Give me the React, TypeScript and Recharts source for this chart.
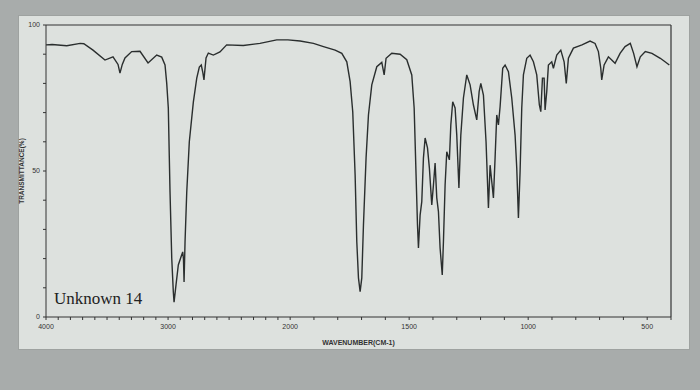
import { LineChart, Line, XAxis, YAxis, ReferenceLine } from "recharts";

// IR spectrum (wavenumber in cm-1, %T)
const wavenumbers = [
  4000, 3950, 3830, 3720, 3690, 3615, 3517, 3451, 3410, 3394, 3375, 3353, 3298, 3230, 3164, 3093,
  3052, 3025, 3011, 2998, 2990, 2984, 2970, 2957, 2951, 2935, 2916, 2897, 2880, 2874, 2869, 2861,
  2847, 2826, 2793, 2765, 2744, 2728, 2716, 2706, 2689, 2670, 2629, 2575, 2520, 2384, 2247, 2110,
  2018, 1958, 1902, 1860, 1811, 1783, 1762, 1748, 1737, 1727, 1720, 1713, 1706, 1699, 1692, 1681,
  1671, 1657, 1636, 1615, 1605, 1597, 1573, 1538, 1510, 1489, 1479, 1471, 1465, 1461, 1454, 1447,
  1440, 1433, 1423, 1415, 1405, 1398, 1391, 1384, 1377, 1370, 1361, 1356, 1349, 1342, 1331, 1325,
  1317, 1307, 1300, 1291, 1283, 1272, 1258, 1244, 1230, 1216, 1206, 1199, 1188, 1177, 1167, 1160,
  1153, 1146, 1139, 1132, 1125, 1118, 1107, 1097, 1083, 1069, 1055, 1048, 1041, 1034, 1027, 1020,
  1006, 992, 978, 964, 953, 947, 940, 933, 929, 922, 915, 901, 894, 880, 863, 849,
  840, 831, 821, 810, 774, 740, 719, 705, 695, 691, 681, 663, 649, 635, 614, 593,
  571, 557, 543, 529, 508, 480, 445, 425, 407,
];

const transmittance = [
  93.2, 93.3, 92.9, 93.7, 93.6, 91.4, 88.0, 89.1, 86.5, 83.5, 86.5, 88.7, 90.9, 91.0, 87.0, 89.7,
  89.0, 86.3, 80.0, 71.6, 55.0, 42.8, 20.2, 8.6, 5.1, 11.0, 17.8, 20.2, 22.3, 20.0, 12.0, 25.7,
  42.8, 60.0, 73.6, 81.8, 85.6, 86.3, 83.9, 81.2, 88.7, 90.4, 89.7, 90.8, 93.2, 93.0, 93.7, 94.9,
  94.9, 94.5, 93.7, 92.6, 91.4, 90.3, 87.4, 80.6, 70.3, 48.6, 25.8, 13.4, 8.7, 13.4, 31.5, 54.5,
  69.2, 79.5, 85.7, 87.2, 82.9, 88.6, 90.3, 90.0, 88.1, 82.9, 71.6, 48.6, 31.5, 23.6, 34.9, 39.5,
  54.5, 61.3, 57.9, 51.0, 38.4, 45.2, 52.7, 40.8, 36.1, 23.6, 14.4, 25.8, 45.2, 56.6, 53.8, 65.8,
  73.7, 71.6, 62.3, 44.2, 62.3, 75.0, 82.9, 79.5, 72.6, 67.5, 77.2, 80.0, 76.0, 60.0, 37.3, 52.0,
  46.4, 40.8, 54.5, 69.2, 65.8, 72.0, 85.2, 86.3, 84.0, 75.0, 62.3, 51.0, 33.9, 49.8, 71.6, 82.9,
  88.6, 89.7, 87.4, 82.9, 72.6, 70.3, 81.8, 81.8, 70.9, 77.2, 86.3, 87.4, 85.2, 89.7, 91.4, 87.4,
  80.0, 88.6, 90.3, 92.1, 93.2, 94.5, 93.7, 90.9, 85.2, 81.2, 86.3, 89.1, 88.0, 86.9, 90.3, 92.6,
  93.7, 90.3, 85.7, 89.1, 90.9, 90.3, 88.6, 87.4, 86.3,
];

const xLabels = [4000, 3000, 2000, 1500, 1000, 500];
const yLabels = [0, 50, 100];
const yTicks = [0, 10, 20, 30, 40, 50, 60, 70, 80, 90, 100];

// the instrument doubles the scale below 2000 cm-1
const SPLIT = 2000;
const STRETCH = 1.95;
const toPos = (w: number) => (w >= SPLIT ? 4000 - w : 4000 - SPLIT + (SPLIT - w) * STRETCH);
const fromPos = (p: number) => (p <= 4000 - SPLIT ? 4000 - p : SPLIT - (p - (4000 - SPLIT)) / STRETCH);

const xTicks: number[] = [];
for (let w = 4000; w >= 400; w -= 100) xTicks.push(toPos(w));
const xMax = toPos(400);

const data = wavenumbers.map((w, i) => ({ pos: toPos(w), t: transmittance[i] }));

const tickStyle = { fontSize: 7, fill: "#333", fontFamily: "Liberation Sans, Arial, sans-serif" };

function YTitle(props: any) {
  const vb = props.viewBox || { x: 16, y: 25, width: 30, height: 292 };
  const x = vb.x + 8;
  const y = vb.y + vb.height / 2;
  return (
    <text
      x={x}
      y={y}
      transform={`rotate(-90 ${x} ${y})`}
      textAnchor="middle"
      fontSize={6.5}
      fontWeight={600}
      fill="#333"
      fontFamily="Liberation Sans, Arial, sans-serif"
    >
      TRANSMITTANCE(%)
    </text>
  );
}

export default function App() {
  return (
    <div style={{ position: "absolute", left: 0, top: 0, width: 700, height: 390, background: "#a8acab", overflow: "hidden" }}>
      <div
        style={{
          position: "absolute",
          left: 18,
          top: 15,
          width: 672,
          height: 335,
          background: "#dde1de",
          border: "1px solid #9ea2a0",
          boxSizing: "border-box",
        }}
      />
      <div style={{ position: "absolute", left: 0, top: 0 }}>
        <LineChart width={700} height={390} data={data} margin={{ top: 25, right: 29, left: 16, bottom: 43 }}>
          <XAxis
            type="number"
            dataKey="pos"
            domain={[0, xMax]}
            ticks={xTicks}
            interval={0}
            allowDataOverflow
            height={30}
            tickSize={3}
            tickMargin={4}
            stroke="#333"
            tick={tickStyle}
            tickFormatter={(v: number) => {
              const w = Math.round(fromPos(v));
              return xLabels.includes(w) ? String(w) : "";
            }}
            label={{
              value: "WAVENUMBER(CM-1)",
              position: "insideBottom",
              offset: 2,
              style: { fontSize: 7, fontWeight: 600, fill: "#333", fontFamily: "Liberation Sans, Arial, sans-serif" },
            }}
          />
          <YAxis
            type="number"
            domain={[0, 100]}
            ticks={yTicks}
            interval={0}
            width={30}
            tickSize={3}
            tickMargin={3}
            stroke="#333"
            tick={tickStyle}
            tickFormatter={(v: number) => (yLabels.includes(v) ? String(v) : "")}
            label={<YTitle />}
          />
          <ReferenceLine y={100} stroke="#333" strokeWidth={1.2} />
          <ReferenceLine x={xMax} stroke="#333" strokeWidth={1.2} />
          <Line
            type="linear"
            dataKey="t"
            stroke="#2a2e2e"
            strokeWidth={1.4}
            dot={false}
            isAnimationActive={false}
          />
        </LineChart>
      </div>
      <div
        style={{
          position: "absolute",
          left: 54,
          top: 290,
          fontFamily: "Liberation Serif, Times New Roman, serif",
          fontSize: 17,
          lineHeight: 1,
          color: "#222",
        }}
      >
        Unknown 14
      </div>
    </div>
  );
}
